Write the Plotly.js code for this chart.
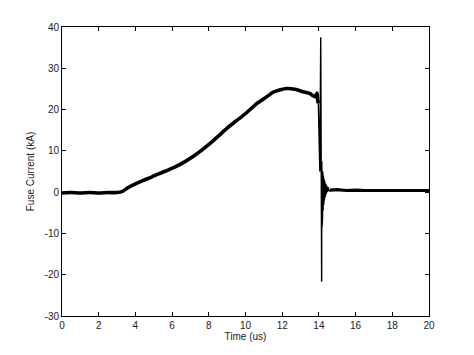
<!DOCTYPE html>
<html>
<head>
<meta charset="utf-8">
<script src="https://cdn.plot.ly/plotly-3.0.1.min.js"></script>
<style>html,body{margin:0;padding:0;background:#fff;}#chart{width:474px;height:355px;}</style>
</head>
<body>
<div id="chart"></div>
<script>
// Main (slow) part of the fuse current waveform
const timeMain = [0, 0.5, 1, 1.5, 2, 2.5, 3, 3.3, 3.6, 4.0, 4.4, 4.9, 5.3, 5.8, 6.25, 6.7, 7.16, 7.6, 8.07, 8.5, 8.97, 9.5, 9.88, 10.3, 10.6, 11.0, 11.5, 11.9, 12.25, 12.7, 13.15, 13.5, 13.79, 13.9, 13.93, 13.97];
const currentMain = [-0.2, -0.1, -0.2, -0.1, -0.2, -0.1, -0.1, 0.2, 1.1, 2.0, 2.8, 3.7, 4.5, 5.4, 6.3, 7.4, 8.7, 10.1, 11.8, 13.5, 15.4, 17.3, 18.6, 20.2, 21.4, 22.6, 24.2, 24.8, 25.1, 24.9, 24.3, 23.9, 23.1, 24.0, 22.3, 21.5];
// Fast transient (arc / interruption) part
const timeTrans = [13.97, 14.0, 14.05, 14.1, 14.12, 14.13, 14.15, 14.16, 14.17, 14.18, 14.2, 14.21, 14.23, 14.25, 14.27, 14.29, 14.3, 14.33, 14.35, 14.38, 14.4, 14.43, 14.45, 14.5, 14.55, 14.6];
const currentTrans = [21.5, 10.0, 5.0, 37.5, -5.0, 6.0, -21.7, 7.5, -8.4, 6.5, -6.0, 5.0, -4.5, 4.0, -3.0, 3.2, -2.0, 2.6, -1.2, 2.0, -0.5, 1.6, 0.0, 1.2, 0.2, 0.5];
// Tail after interruption
const timeTail = [14.6, 15, 15.5, 16, 16.5, 17, 17.5, 18, 18.5, 19, 19.5, 20];
const currentTail = [0.5, 0.6, 0.4, 0.5, 0.4, 0.4, 0.5, 0.4, 0.4, 0.5, 0.4, 0.4];

const xTicks = [0, 2, 4, 6, 8, 10, 12, 14, 16, 18, 20];
const yTicks = [-30, -20, -10, 0, 10, 20, 30, 40];

const font = {family: 'Liberation Sans, Arial, sans-serif', size: 10, color: '#222'};

const traces = [
  {x: timeMain, y: currentMain, mode: 'lines', line: {color: '#000', width: 3.6, shape: 'spline', smoothing: 0.6}, hoverinfo: 'skip'},
  {x: timeTrans, y: currentTrans, mode: 'lines', line: {color: '#000', width: 1.4}, hoverinfo: 'skip'},
  {x: timeTail, y: currentTail, mode: 'lines', line: {color: '#000', width: 3.2}, hoverinfo: 'skip'}
];

const axisCommon = {
  showline: true, linecolor: '#000', linewidth: 1, mirror: 'ticks',
  ticks: 'inside', ticklen: 4, tickcolor: '#000', tickwidth: 1,
  showgrid: false, zeroline: false, tickfont: font, automargin: false
};

const layout = {
  width: 474, height: 355,
  margin: {l: 62, r: 45, t: 27, b: 39},
  paper_bgcolor: '#fff', plot_bgcolor: '#fff',
  showlegend: false,
  font: font,
  xaxis: Object.assign({}, axisCommon, {
    range: [0, 20], tickvals: xTicks, ticktext: xTicks.map(String),
    title: {text: 'Time (us)', font: font, standoff: 0}
  }),
  yaxis: Object.assign({}, axisCommon, {
    range: [-30, 40], tickvals: yTicks, ticktext: yTicks.map(String),
    title: {text: 'Fuse Current (kA)', font: font, standoff: 8}
  })
};

Plotly.newPlot('chart', traces, layout, {displayModeBar: false, staticPlot: true});
</script>
</body>
</html>
